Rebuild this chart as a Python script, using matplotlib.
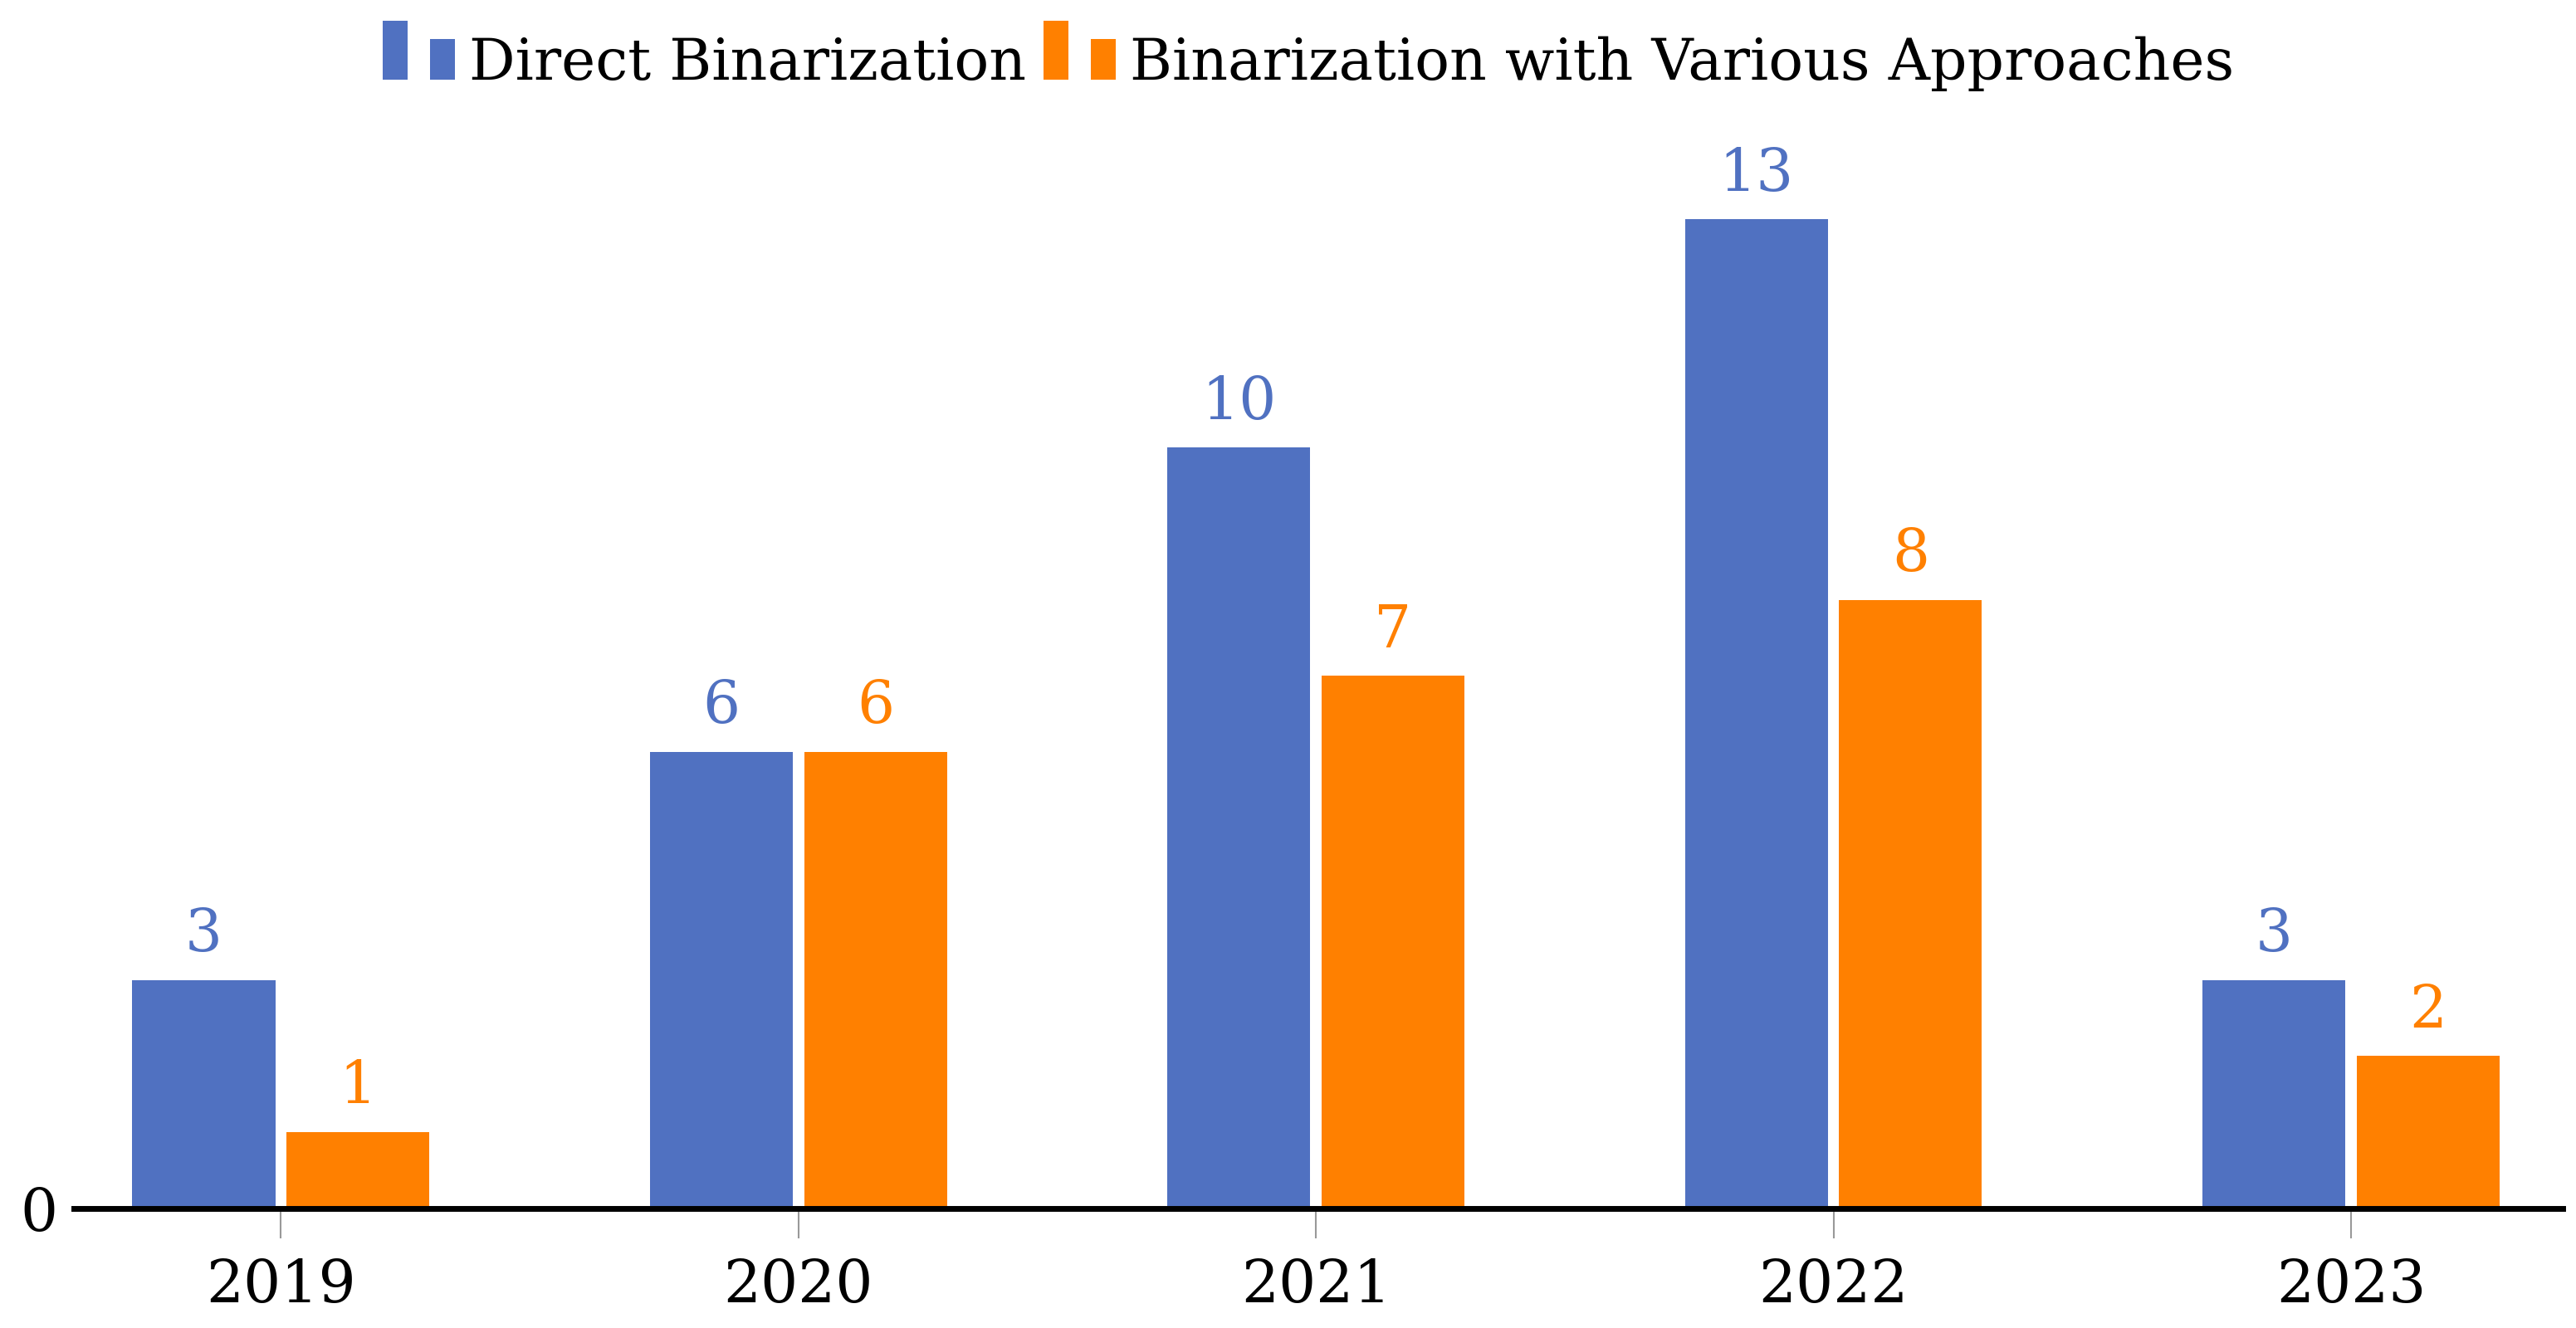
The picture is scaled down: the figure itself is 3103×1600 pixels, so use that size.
import matplotlib
matplotlib.use('Agg')
import matplotlib.pyplot as plt
import numpy as np
from matplotlib.legend_handler import HandlerBase
from matplotlib.patches import Rectangle, Patch

years = ['2019', '2020', '2021', '2022', '2023']
direct = [3, 6, 10, 13, 3]
various = [1, 6, 7, 8, 2]

blue = '#5071C1'
orange = '#FF8000'


class TwoBarHandler(HandlerBase):
    # legend icon: two little bars, the second one shorter
    def create_artists(self, legend, orig_handle, xdescent, ydescent,
                       width, height, fontsize, trans):
        c = orig_handle.get_facecolor()
        w = width * 0.35
        r1 = Rectangle((-xdescent, -ydescent), w, height * 1.45,
                       facecolor=c, edgecolor='none', transform=trans)
        r2 = Rectangle((-xdescent + width * 0.65, -ydescent), w,
                       height * 1.0, facecolor=c, edgecolor='none', transform=trans)
        return [r1, r2]


plt.rcParams['font.family'] = ['DejaVu Serif']
fig = plt.figure(figsize=(31.03, 16), dpi=100)
ax = fig.add_axes([0.0287, 0.0903, 0.9663, 0.8017])

x = np.arange(len(years))
bw = 0.276
off = 0.149
b1 = ax.bar(x - off, direct, bw, color=blue)
b2 = ax.bar(x + off, various, bw, color=orange)

for bars, vals, col in [(b1, direct, blue), (b2, various, orange)]:
    for b, v in zip(bars, vals):
        ax.annotate(str(v), (b.get_x() + b.get_width() / 2, v),
                    xytext=(0, 14), textcoords='offset points',
                    ha='center', va='bottom', color=col, fontsize=51)

ax.set_xlim(-0.4, 4.41)
ax.set_ylim(0, 14)
ax.set_xticks(x)
ax.set_xticklabels(years, fontsize=51)
ax.set_yticks([0])
ax.set_yticklabels(['0'], fontsize=51)
ax.tick_params(axis='y', length=0, pad=14)
ax.tick_params(axis='x', length=26, width=1.5, color='#999999', pad=17)
for s in ['top', 'right', 'left']:
    ax.spines[s].set_visible(False)
ax.spines['bottom'].set_linewidth(5)
ax.spines['bottom'].set_zorder(5)

h1 = Patch(facecolor=blue, label='Direct Binarization')
h2 = Patch(facecolor=orange, label='Binarization with Various Approaches')
fig.legend(handles=[h1, h2], loc='upper center', bbox_to_anchor=(0.508, 1.012),
           ncol=2, frameon=False, fontsize=50, handler_map={Patch: TwoBarHandler()},
           handlelength=1.25, handletextpad=0.25, columnspacing=0.3)

fig.savefig('out.png', dpi=100)
